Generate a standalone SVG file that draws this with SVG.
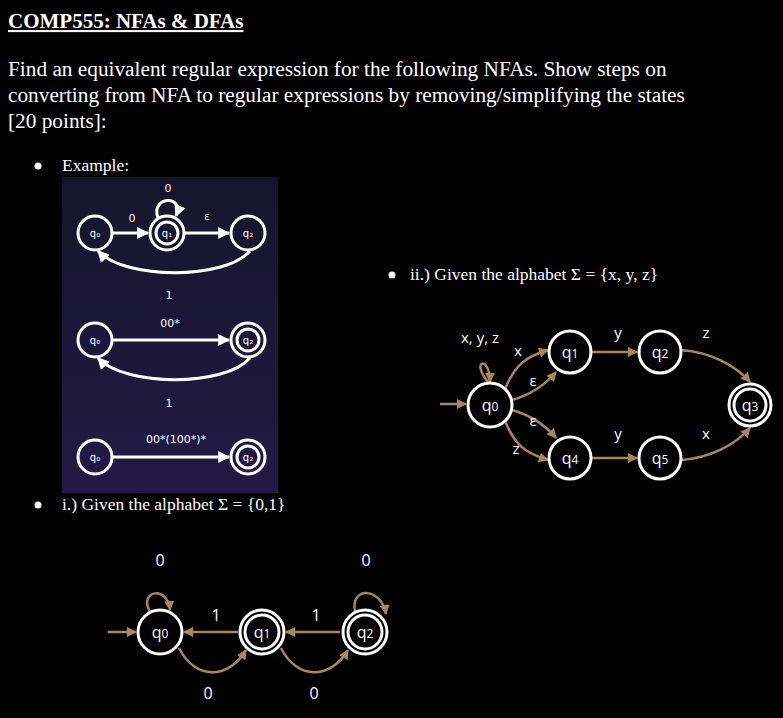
<svg xmlns="http://www.w3.org/2000/svg" width="783" height="718" viewBox="0 0 783 718">
<defs>
<linearGradient id="bg" x1="0" y1="0" x2="0" y2="1"><stop offset="0" stop-color="#16142a"/><stop offset="1" stop-color="#221a45"/></linearGradient>
<marker id="aw" viewBox="0 0 10 10" refX="9" refY="5" markerWidth="4" markerHeight="4" orient="auto"><path d="M0,0L10,5L0,10z" fill="#fff"/></marker>
<marker id="at" viewBox="0 0 10 10" refX="9" refY="5" markerWidth="4" markerHeight="4" orient="auto"><path d="M0,0L10,5L0,10z" fill="#a8875a"/></marker>
</defs>
<style>
.t{font-family:"Liberation Serif",serif;fill:#fff}
.s{font-family:"DejaVu Sans",sans-serif;fill:#fff}
.o{font-family:"Open Sans","DejaVu Sans",sans-serif;fill:#fff}
.nw{fill:none;stroke:#fff;stroke-width:3}
.nb{fill:#000;stroke:#fff;stroke-width:3}
.ew{fill:none;stroke:#fff;stroke-width:3;marker-end:url(#aw)}
.et{fill:none;stroke:#a8875a;stroke-width:2.5;marker-end:url(#at)}
</style>
<rect width="783" height="718" fill="#000"/>
<text class="t" x="8" y="28" font-size="21" font-weight="bold" text-decoration="underline">COMP555: NFAs &amp; DFAs</text>
<text class="t" x="8" y="76" font-size="21.3">Find an equivalent regular expression for the following NFAs. Show steps on</text>
<text class="t" x="8" y="102" font-size="21.3">converting from NFA to regular expressions by removing/simplifying the states</text>
<text class="t" x="8" y="128" font-size="21.3">[20 points]:</text>
<circle cx="38" cy="166" r="3.5" fill="#fff"/>
<text class="t" x="62" y="171" font-size="17.5">Example:</text>
<circle cx="38" cy="505" r="3.5" fill="#fff"/>
<text class="t" x="62" y="510" font-size="17.5">i.) Given the alphabet Σ = {0,1}</text>
<circle cx="392" cy="275" r="3.5" fill="#fff"/>
<text class="t" x="410" y="280" font-size="17.5">ii.) Given the alphabet Σ = {x, y, z}</text>

<rect x="62" y="177" width="216" height="316" fill="url(#bg)"/>
<g id="connectors">
<path class="ew" d="M113,233H148"/>
<path class="ew" d="M185,233H229"/>
<path class="ew" d="M158,218C150,196 185,194 176,216"/>
<path class="ew" d="M250,251C225,280 125,280 98,251"/>
<path class="ew" d="M113,340H229"/>
<path class="ew" d="M250,358C225,387 125,387 98,358"/>
<path class="ew" d="M113,457H229"/>

<path class="et" d="M440,404H466"/>
<path class="et" d="M488,382C470,360 490,355 490,382"/>
<path class="et" d="M505,389C515,365 525,357 548,350"/>
<path class="et" d="M512,400C530,395 545,385 556,372"/>
<path class="et" d="M591,352H637"/>
<path class="et" d="M681,350C710,352 735,365 750,382"/>
<path class="et" d="M512,410C530,415 545,425 556,438"/>
<path class="et" d="M505,421C515,445 525,453 548,460"/>
<path class="et" d="M591,458H637"/>
<path class="et" d="M681,460C710,458 735,445 750,428"/>

<path class="et" d="M108,632H136"/>
<path class="et" d="M150,612C138,590 168,585 170,610"/>
<path class="et" d="M355,612C350,585 382,588 386,614"/>
<path class="et" d="M238,632H184"/>
<path class="et" d="M340,632H286"/>
<path class="et" d="M179,648C195,680 228,680 246,650"/>
<path class="et" d="M281,648C297,680 330,680 348,650"/>
</g>
<g id="ex-labels">
<text class="s" x="168" y="192" font-size="11" text-anchor="middle">0</text>
<text class="s" x="132" y="222" font-size="11" text-anchor="middle">0</text>
<text class="s" x="207" y="220" font-size="11" text-anchor="middle">ε</text>
<text class="s" x="169" y="299" font-size="11" text-anchor="middle">1</text>
<text class="s" x="170" y="327" font-size="11" text-anchor="middle">00*</text>
<text class="s" x="169" y="407" font-size="11" text-anchor="middle">1</text>
<text class="s" x="176" y="443" font-size="11" text-anchor="middle">00*(100*)*</text>
</g>
<g id="e1-q0"><circle class="nw" cx="95" cy="233" r="17"/><text class="s" x="95" y="237" font-size="10" text-anchor="middle">q₀</text></g>
<g id="e1-q1"><circle class="nw" cx="167" cy="233" r="17"/><circle class="nw" cx="167" cy="233" r="11" stroke-width="2"/><text class="s" x="167" y="237" font-size="10" text-anchor="middle">q₁</text></g>
<g id="e1-q2"><circle class="nw" cx="248" cy="233" r="17"/><text class="s" x="248" y="237" font-size="10" text-anchor="middle">q₂</text></g>
<g id="e2-q0"><circle class="nw" cx="95" cy="340" r="17"/><text class="s" x="95" y="344" font-size="10" text-anchor="middle">q₀</text></g>
<g id="e2-q2"><circle class="nw" cx="248" cy="340" r="17"/><circle class="nw" cx="248" cy="340" r="11" stroke-width="2"/><text class="s" x="248" y="344" font-size="10" text-anchor="middle">q₂</text></g>
<g id="e3-q0"><circle class="nw" cx="95" cy="457" r="17"/><text class="s" x="95" y="461" font-size="10" text-anchor="middle">q₀</text></g>
<g id="e3-q2"><circle class="nw" cx="248" cy="457" r="17"/><circle class="nw" cx="248" cy="457" r="11" stroke-width="2"/><text class="s" x="248" y="461" font-size="10" text-anchor="middle">q₂</text></g>

<g id="ii-labels">
<text class="o" x="480" y="343" font-size="15" text-anchor="middle">x, y, z</text>
<text class="o" x="518" y="356" font-size="15" text-anchor="middle">x</text>
<text class="o" x="533" y="386" font-size="15" text-anchor="middle">ε</text>
<text class="o" x="533" y="426" font-size="15" text-anchor="middle">ε</text>
<text class="o" x="516" y="454" font-size="15" text-anchor="middle">z</text>
<text class="o" x="618" y="338" font-size="15" text-anchor="middle">y</text>
<text class="o" x="706" y="338" font-size="15" text-anchor="middle">z</text>
<text class="o" x="618" y="439" font-size="15" text-anchor="middle">y</text>
<text class="o" x="706" y="439" font-size="15" text-anchor="middle">x</text>
</g>
<g id="ii-q0"><circle class="nb" cx="490" cy="405" r="22"/><text class="o" x="490" y="411" font-size="16" text-anchor="middle">q<tspan font-size="12">0</tspan></text></g>
<g id="ii-q1"><circle class="nb" cx="570" cy="352" r="21"/><text class="o" x="570" y="358" font-size="16" text-anchor="middle">q<tspan font-size="12">1</tspan></text></g>
<g id="ii-q2"><circle class="nb" cx="660" cy="352" r="21"/><text class="o" x="660" y="358" font-size="16" text-anchor="middle">q<tspan font-size="12">2</tspan></text></g>
<g id="ii-q3"><circle class="nb" cx="750" cy="405" r="21"/><circle class="nw" cx="750" cy="405" r="16" stroke-width="2"/><text class="o" x="750" y="411" font-size="16" text-anchor="middle">q<tspan font-size="12">3</tspan></text></g>
<g id="ii-q4"><circle class="nb" cx="570" cy="458" r="21"/><text class="o" x="570" y="464" font-size="16" text-anchor="middle">q<tspan font-size="12">4</tspan></text></g>
<g id="ii-q5"><circle class="nb" cx="660" cy="458" r="21"/><text class="o" x="660" y="464" font-size="16" text-anchor="middle">q<tspan font-size="12">5</tspan></text></g>

<g id="i-labels">
<text class="o" x="160" y="566" font-size="16" text-anchor="middle">0</text>
<text class="o" x="366" y="566" font-size="16" text-anchor="middle">0</text>
<text class="o" x="216" y="621" font-size="16" text-anchor="middle">1</text>
<text class="o" x="316" y="621" font-size="16" text-anchor="middle">1</text>
<text class="o" x="208" y="699" font-size="16" text-anchor="middle">0</text>
<text class="o" x="314" y="699" font-size="16" text-anchor="middle">0</text>
</g>
<g id="i-q0"><circle class="nb" cx="160" cy="632" r="22"/><text class="o" x="160" y="638" font-size="16" text-anchor="middle">q<tspan font-size="12">0</tspan></text></g>
<g id="i-q1"><circle class="nb" cx="262" cy="632" r="22"/><circle class="nw" cx="262" cy="632" r="17" stroke-width="2"/><text class="o" x="262" y="638" font-size="16" text-anchor="middle">q<tspan font-size="12">1</tspan></text></g>
<g id="i-q2"><circle class="nb" cx="365" cy="632" r="22"/><circle class="nw" cx="365" cy="632" r="17" stroke-width="2"/><text class="o" x="365" y="638" font-size="16" text-anchor="middle">q<tspan font-size="12">2</tspan></text></g>
</svg>
